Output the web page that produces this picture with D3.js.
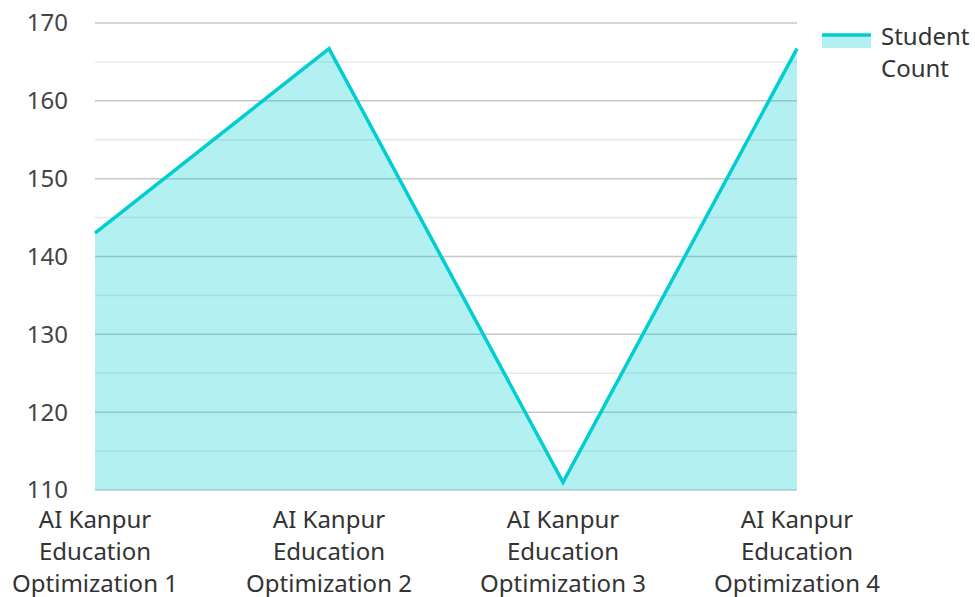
<!DOCTYPE html>
<html>
<head>
<meta charset="utf-8">
<script src="https://cdn.jsdelivr.net/npm/d3@7"></script>
<style>
  body { margin: 0; background: #fff; }
  text { font-family: "Noto Sans", "Open Sans", sans-serif; }
</style>
</head>
<body>
<div id="chart"></div>
<script>
var categories = [
	["AI Kanpur", "Education", "Optimization 1"],
	["AI Kanpur", "Education", "Optimization 2"],
	["AI Kanpur", "Education", "Optimization 3"],
	["AI Kanpur", "Education", "Optimization 4"]
];
var studentCount = [143, 166.7, 111, 166.7];
var yTicks = [110, 120, 130, 140, 150, 160, 170];
var seriesName = ["Student", "Count"];

var width = 975, height = 597;
var plotLeft = 95, plotRight = 797, plotTop = 23, plotBottom = 490;
var color = "#00ced1";

var svg = d3.select("#chart")
	.append("svg")
	.attr("width", width)
	.attr("height", height);

var x = d3.scalePoint()
	.domain(d3.range(categories.length))
	.range([plotLeft, plotRight]);

var y = d3.scaleLinear()
	.domain([110, 170])
	.range([plotBottom, plotTop]);

// minor grid lines every 5
svg.append("g")
	.selectAll("line")
	.data(d3.range(115, 170, 10))
	.enter().append("line")
	.attr("x1", plotLeft)
	.attr("x2", plotRight)
	.attr("y1", function (d) { return y(d); })
	.attr("y2", function (d) { return y(d); })
	.style("stroke", "#e8e8e8")
	.style("stroke-width", 1.5);

// major grid lines
svg.append("g")
	.selectAll("line")
	.data(yTicks)
	.enter().append("line")
	.attr("x1", plotLeft)
	.attr("x2", plotRight)
	.attr("y1", function (d) { return y(d); })
	.attr("y2", function (d) { return y(d); })
	.style("stroke", "#c8c8c8")
	.style("stroke-width", 1.5);

var area = d3.area()
	.x(function (d, i) { return x(i); })
	.y0(y(110))
	.y1(function (d) { return y(d); });

var line = d3.line()
	.x(function (d, i) { return x(i); })
	.y(function (d) { return y(d); });

svg.append("path")
	.datum(studentCount)
	.attr("d", area)
	.style("fill", color)
	.style("fill-opacity", 0.3);

svg.append("path")
	.datum(studentCount)
	.attr("d", line)
	.style("fill", "none")
	.style("stroke", color)
	.style("stroke-width", 3.5);

// y tick labels
svg.append("g")
	.selectAll("text")
	.data(yTicks)
	.enter().append("text")
	.attr("x", 68)
	.attr("y", function (d) { return y(d); })
	.attr("text-anchor", "end")
	.attr("dy", "0.35em")
	.style("font-size", "24px")
	.style("fill", "#444")
	.text(function (d) { return d; });

// x labels, three lines each
var xl = svg.append("g")
	.selectAll("text")
	.data(categories)
	.enter().append("text")
	.attr("text-anchor", "middle")
	.style("font-size", "24px")
	.style("fill", "#333");

xl.selectAll("tspan")
	.data(function (d, i) { return d.map(function (s) { return { s: s, i: i }; }); })
	.enter().append("tspan")
	.attr("x", function (d) { return x(d.i); })
	.attr("y", function (d, j) { return 528 + j * 32; })
	.text(function (d) { return d.s; });

// legend
var lg = svg.append("g");
lg.append("rect")
	.attr("x", 822).attr("y", 34)
	.attr("width", 49).attr("height", 14)
	.style("fill", color).style("fill-opacity", 0.3);
lg.append("line")
	.attr("x1", 822).attr("x2", 871)
	.attr("y1", 35).attr("y2", 35)
	.style("stroke", color).style("stroke-width", 3.5);
lg.append("text")
	.selectAll("tspan")
	.data(seriesName)
	.enter().append("tspan")
	.attr("x", 881)
	.attr("y", function (d, i) { return 45 + i * 32; })
	.style("font-size", "24px")
	.style("fill", "#333")
	.text(function (d) { return d; });
</script>
</body>
</html>
